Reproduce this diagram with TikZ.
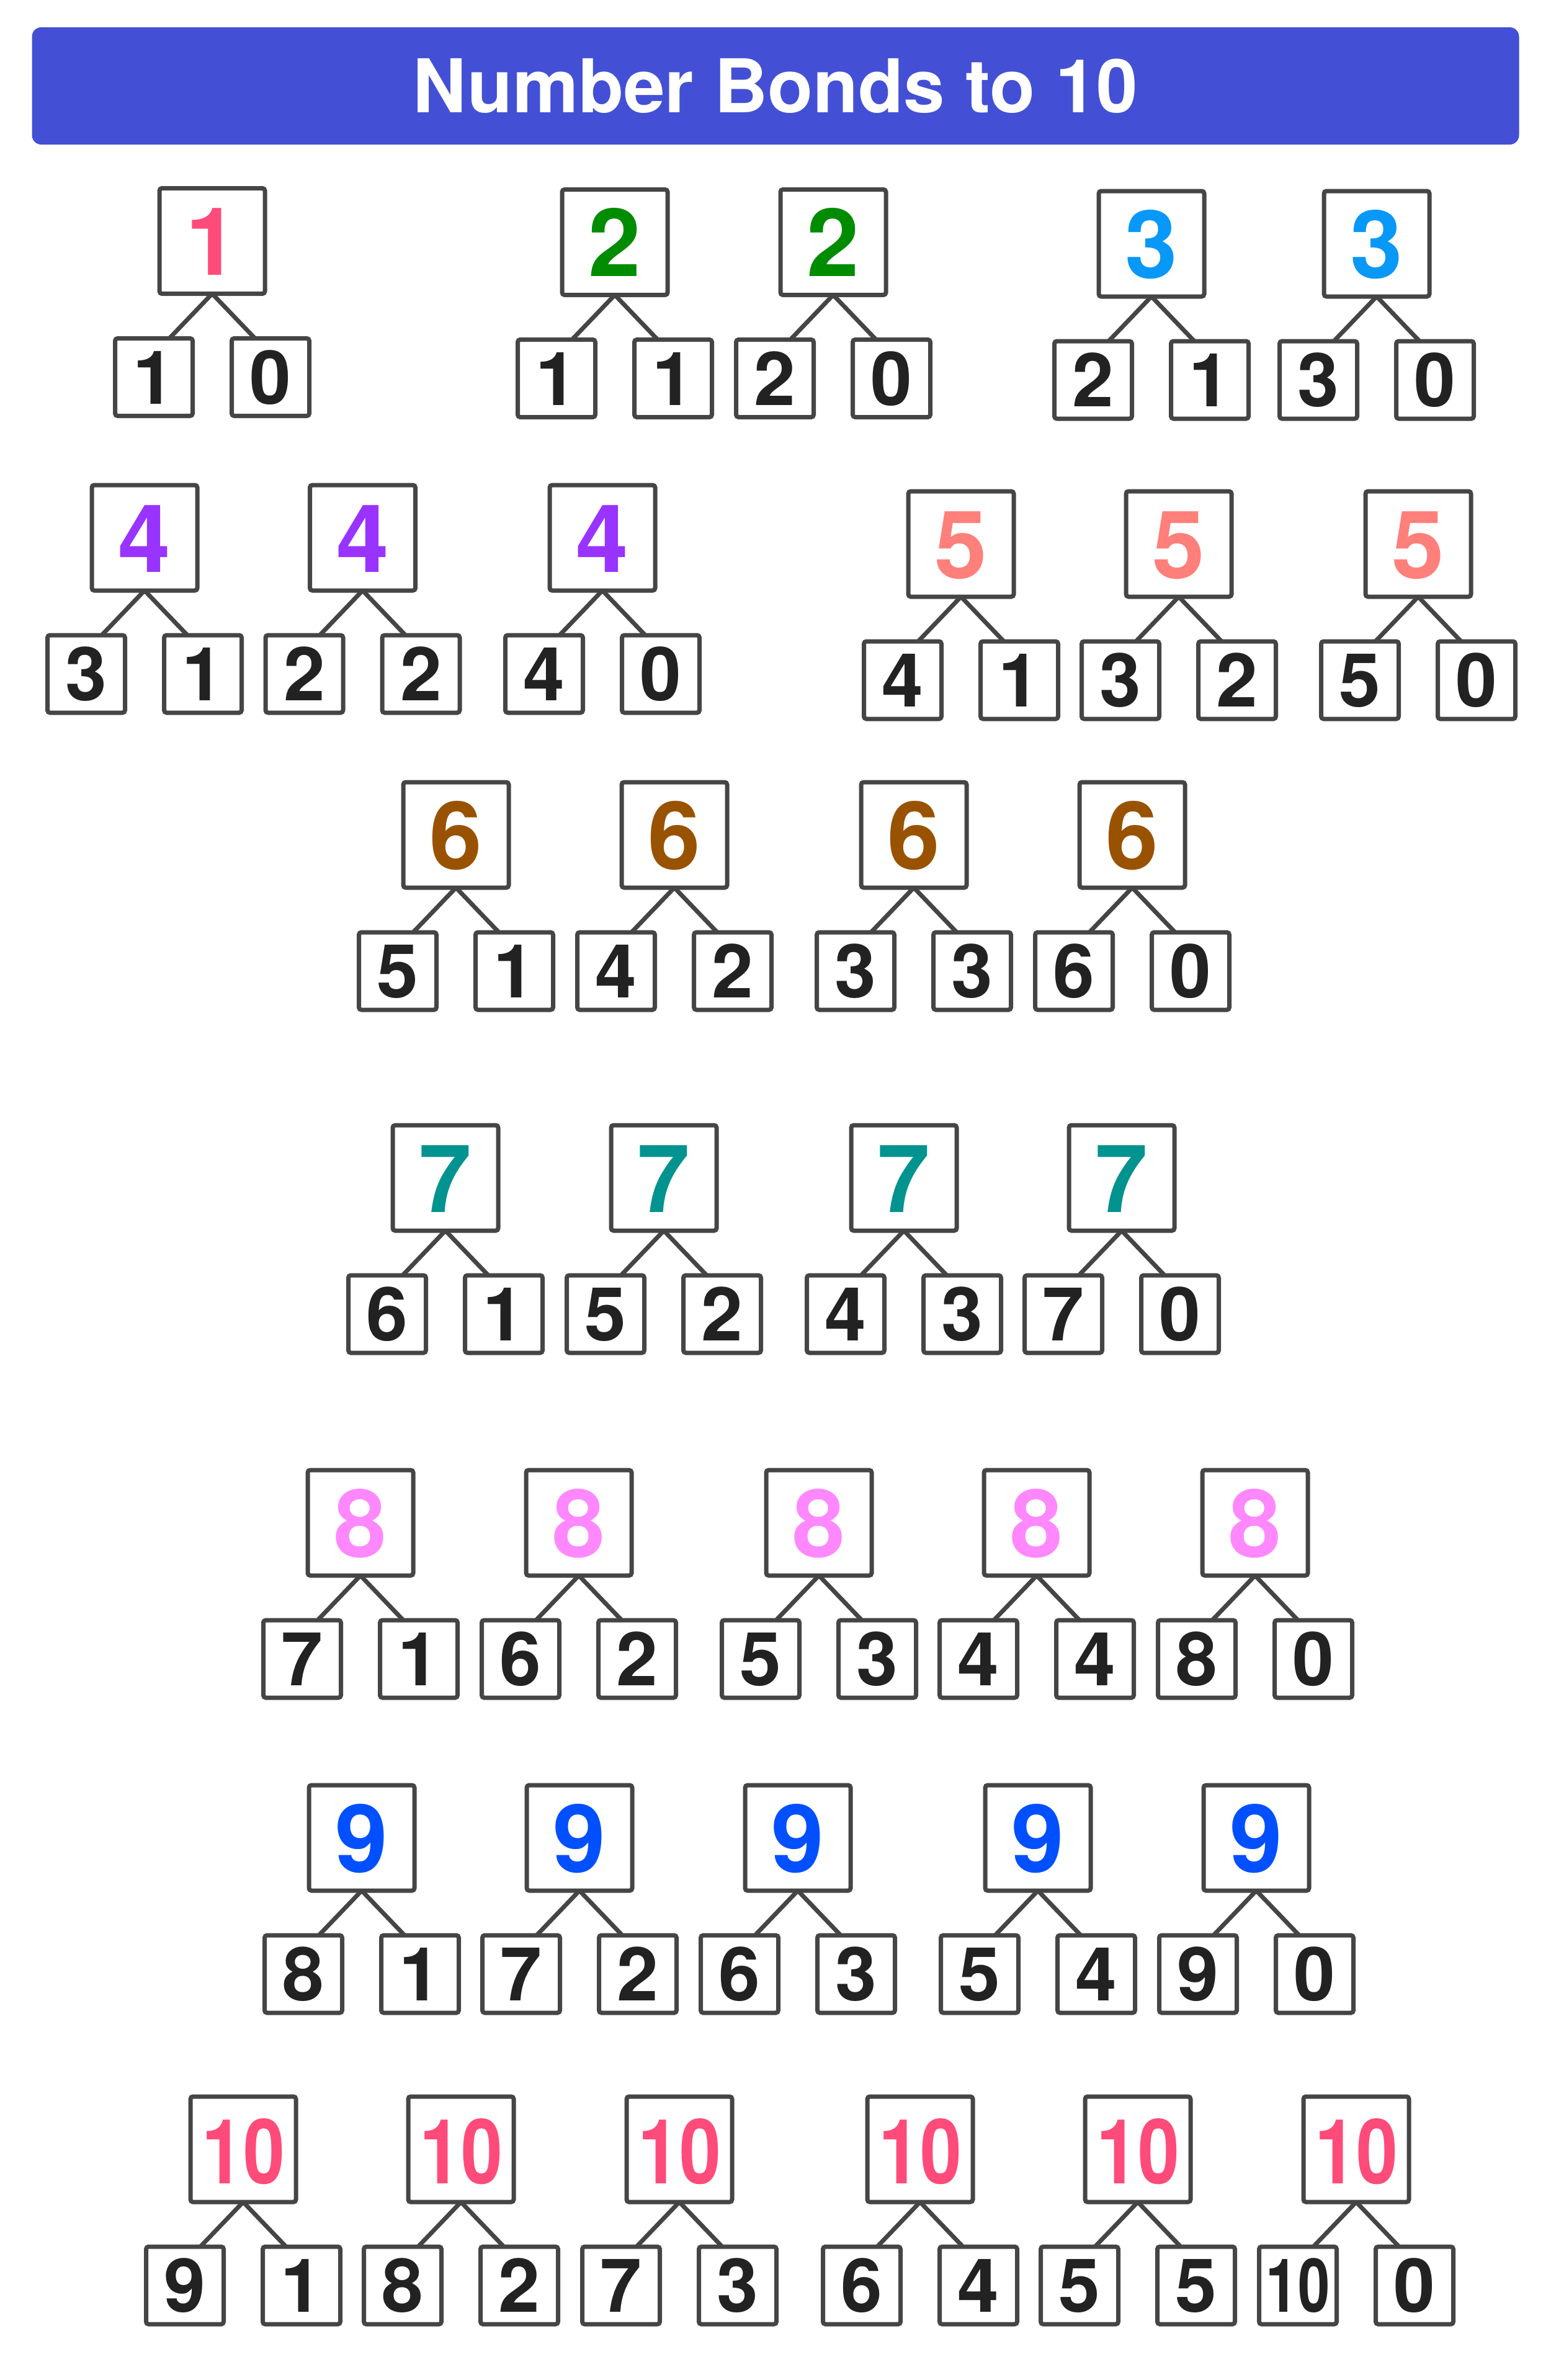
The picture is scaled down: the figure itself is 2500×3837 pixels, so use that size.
\documentclass[tikz,border=0pt]{standalone}
\usepackage{fontspec}
\setmainfont{TeX Gyre Heros}
\usepackage{graphicx}
\usetikzlibrary{calc}
\definecolor{barblue}{HTML}{4350D5}
\definecolor{edge}{HTML}{454545}
\definecolor{ink}{HTML}{222222}
\definecolor{cOne}{HTML}{FF4B7A}
\definecolor{cTwo}{HTML}{008C00}
\definecolor{cThree}{HTML}{0898F8}
\definecolor{cFour}{HTML}{9933FF}
\definecolor{cFive}{HTML}{FF7F7A}
\definecolor{cSix}{HTML}{995200}
\definecolor{cSeven}{HTML}{00938F}
\definecolor{cEight}{HTML}{FF88FF}
\definecolor{cNine}{HTML}{0050FF}
\tikzset{
  topbox/.style={draw=edge, line width=7pt, fill=white, rounded corners=4pt,
    minimum width=170pt, minimum height=170pt, inner sep=0pt, outer sep=0pt,
    font=\bfseries\fontsize{152}{152}\selectfont, text height=110pt, text depth=0pt},
  kidbox/.style={draw=edge, line width=7pt, fill=white, rounded corners=4pt,
    minimum width=125pt, minimum height=125pt, inner sep=0pt, outer sep=0pt,
    font=\bfseries\fontsize{120}{120}\selectfont, text height=86pt, text depth=0pt, text=ink},
  bond/.style={draw=edge, line width=7pt},
  titlebar/.style={fill=barblue, rounded corners=15pt, minimum width=2397pt,
    minimum height=189pt, inner sep=0pt, text=white,
    font=\bfseries\fontsize{119.5}{119.5}\selectfont, text height=86pt, text depth=0pt}
}
\newcommand\bondtree[7]{%
  \node[topbox, text=#5] (#1) at (#2,#3) {#4};
  \node[kidbox] (#1L) at ($(#1.center)+(-94,219.5)$) {#6};
  \node[kidbox] (#1R) at ($(#1.center)+(94,219.5)$) {#7};
  \draw[bond] (#1.south) -- ($(#1.south |- #1L.north)+(-69,0)$);
  \draw[bond] (#1.south) -- ($(#1.south |- #1R.north)+(69,0)$);
}
\newcommand\topten{\scalebox{0.83}[1]{\fontsize{145}{145}\selectfont 10}}
\newcommand\kidten{\scalebox{0.77}[1]{10}}
\begin{document}
\begin{tikzpicture}[x=1pt, y=-1pt]
\fill[white] (0,0) rectangle (2500,3837);
\useasboundingbox (0,0) rectangle (2500,3837);
\node[titlebar] (title) at (1250,138.5) {Number Bonds to 10};
% row 1
\bondtree{ta}{342}{388.5}{1}{cOne}{1}{0}
\bondtree{tb}{991}{390.5}{2}{cTwo}{1}{1}
\bondtree{tc}{1343}{390.5}{2}{cTwo}{2}{0}
\bondtree{td}{1856}{393}{3}{cThree}{2}{1}
\bondtree{te}{2219}{393}{3}{cThree}{3}{0}
% row 2
\bondtree{fa}{233}{867}{4}{cFour}{3}{1}
\bondtree{fb}{584.5}{867}{4}{cFour}{2}{2}
\bondtree{fc}{971}{867}{4}{cFour}{4}{0}
\bondtree{va}{1549}{877}{5}{cFive}{4}{1}
\bondtree{vb}{1900}{877}{5}{cFive}{3}{2}
\bondtree{vc}{2286}{877}{5}{cFive}{5}{0}
% row 3
\bondtree{sa}{735}{1346}{6}{cSix}{5}{1}
\bondtree{sb}{1087}{1346}{6}{cSix}{4}{2}
\bondtree{sc}{1473}{1346}{6}{cSix}{3}{3}
\bondtree{sd}{1825}{1346}{6}{cSix}{6}{0}
% row 4
\bondtree{na}{718}{1899}{7}{cSeven}{6}{1}
\bondtree{nb}{1070}{1899}{7}{cSeven}{5}{2}
\bondtree{nc}{1457}{1899}{7}{cSeven}{4}{3}
\bondtree{nd}{1808}{1899}{7}{cSeven}{7}{0}
% row 5
\bondtree{ea}{581}{2455}{8}{cEight}{7}{1}
\bondtree{eb}{933}{2455}{8}{cEight}{6}{2}
\bondtree{ec}{1320}{2455}{8}{cEight}{5}{3}
\bondtree{ed}{1671}{2455}{8}{cEight}{4}{4}
\bondtree{ee}{2023}{2455}{8}{cEight}{8}{0}
% row 6
\bondtree{ia}{583}{2963}{9}{cNine}{8}{1}
\bondtree{ib}{934}{2963}{9}{cNine}{7}{2}
\bondtree{ic}{1286}{2963}{9}{cNine}{6}{3}
\bondtree{id}{1673}{2963}{9}{cNine}{5}{4}
\bondtree{ie}{2025}{2963}{9}{cNine}{9}{0}
% row 7
\bondtree{xa}{392}{3465}{\topten}{cOne}{9}{1}
\bondtree{xb}{743}{3465}{\topten}{cOne}{8}{2}
\bondtree{xc}{1095}{3465}{\topten}{cOne}{7}{3}
\bondtree{xd}{1483}{3465}{\topten}{cOne}{6}{4}
\bondtree{xe}{1834}{3465}{\topten}{cOne}{5}{5}
\bondtree{xf}{2186}{3465}{\topten}{cOne}{\kidten}{0}
\end{tikzpicture}
\end{document}
